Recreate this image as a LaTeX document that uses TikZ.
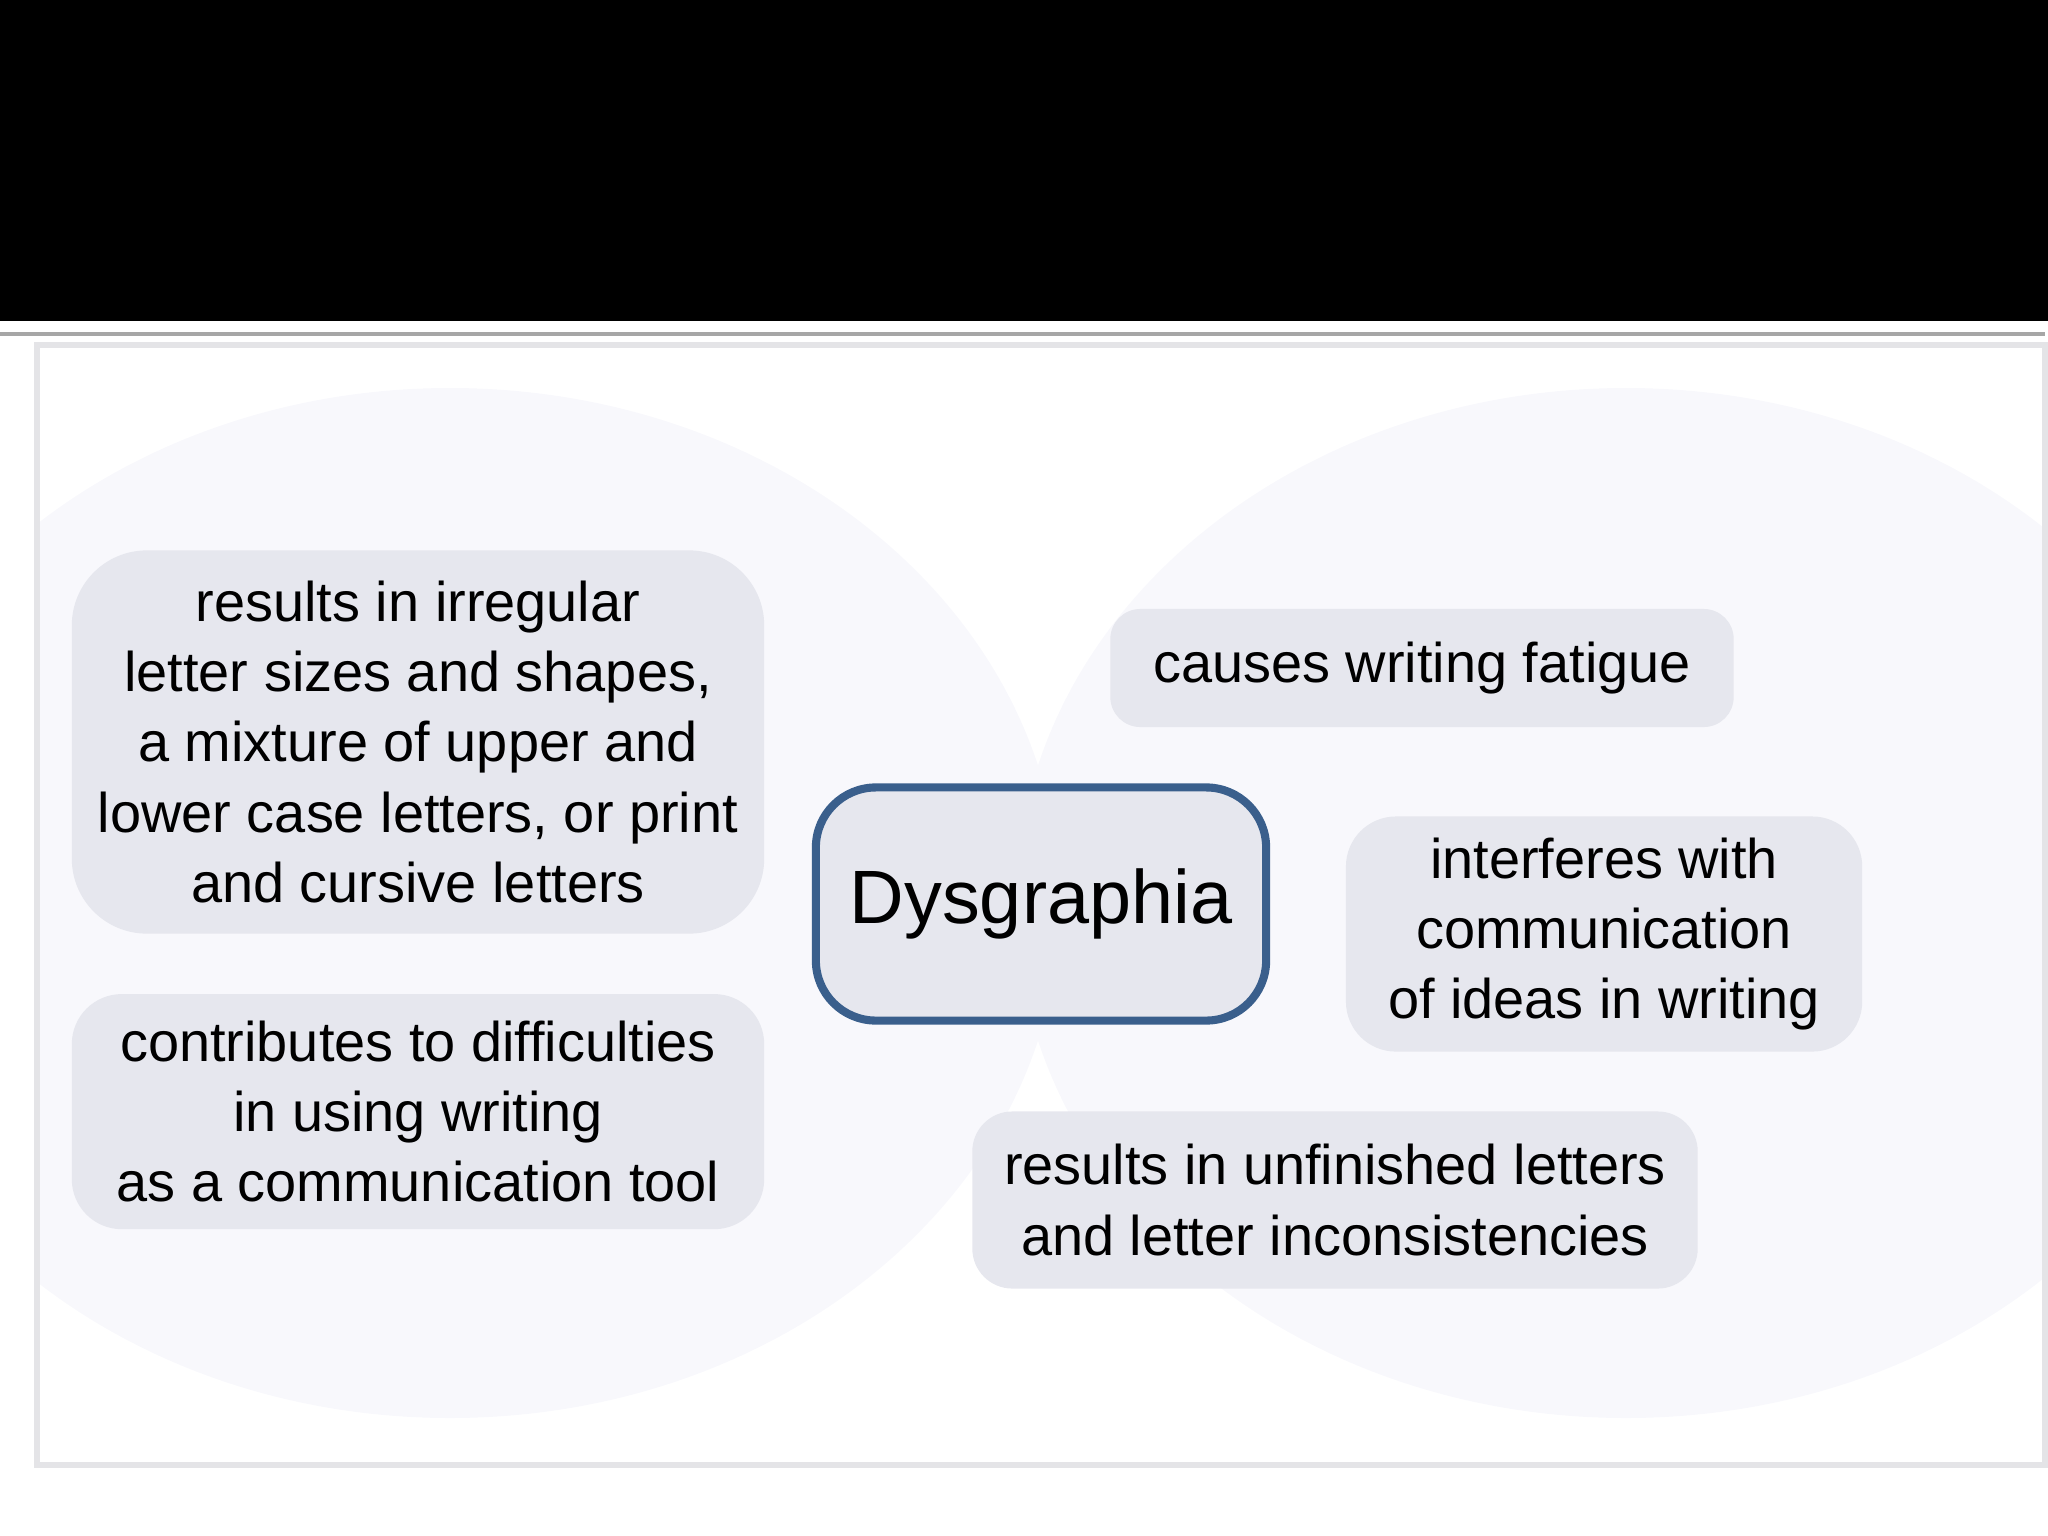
\documentclass[tikz,border=0pt]{standalone}
\usepackage{fontspec}
\setmainfont{Liberation Sans}
\usepackage{xcolor}
\usepackage{tikz}
\usetikzlibrary{positioning}

\definecolor{ideafill}{RGB}{230,231,238}
\definecolor{bubblefill}{RGB}{248,248,252}
\definecolor{frameline}{RGB}{228,228,231}
\definecolor{coreline}{RGB}{58,95,140}

\begin{document}
\begin{tikzpicture}[x=0.01cm,y=-0.01cm]
      \tikzset{idea/.style={rectangle,fill=ideafill,align=center,inner sep=0pt,rounded corners=5mm,font=\fontsize{15.9}{20}\selectfont}}
      \tikzset{core/.style={rectangle,draw=coreline,line width=2.3pt,fill=ideafill,rounded corners=6mm,minimum width=4.5cm,minimum height=2.33cm,font=\fontsize{21.5}{25}\selectfont}}
      \tikzset{bubble/.style={fill=bubblefill,draw=none}}

      \useasboundingbox (0,0) rectangle (2048,1536);

      % title bar and rule
      \fill[black] (0,0) rectangle (2048,321);
      \draw[gray!70,line width=1.1pt] (0,334) -- (2045,334);

      % background bubbles
      \begin{scope}
      \clip (40,348) rectangle (2042,1462);
      \fill[bubble] (450,903) ellipse [x radius=610,y radius=515];
      \fill[bubble] (1626,903) ellipse [x radius=610,y radius=515];
      \end{scope}
      \draw[frameline,line width=1.7pt] (37,345) rectangle (2045,1465);

      \node[core] (dys) at (1041,904) {Dysgraphia};

      \node[idea,minimum width=6.92cm,minimum height=3.83cm,rounded corners=7.5mm] (irregular) at (418,742) {results in irregular\\ letter sizes and shapes,\\ a mixture of upper and\\ lower case letters, or print\\ and cursive letters};
      \node[idea,minimum width=6.92cm,minimum height=2.35cm] (tool) [below=0.59cm of irregular] {contributes to difficulties\\ in using writing\\ as a communication tool};

      \node[idea,minimum width=6.23cm,minimum height=1.18cm,rounded corners=3mm] (fatigue) at (1422,668) {causes writing fatigue};
      \node[idea,minimum width=5.16cm,minimum height=2.35cm] (ideas) [right=0.75cm of dys,yshift=-3mm] {interferes with\\ communication\\ of ideas in writing};
      \node[idea,minimum width=7.25cm,minimum height=1.77cm,rounded corners=4mm] (unfinished) at (1335,1200) {results in unfinished letters\\ and letter inconsistencies};

\end{tikzpicture}
\end{document}
